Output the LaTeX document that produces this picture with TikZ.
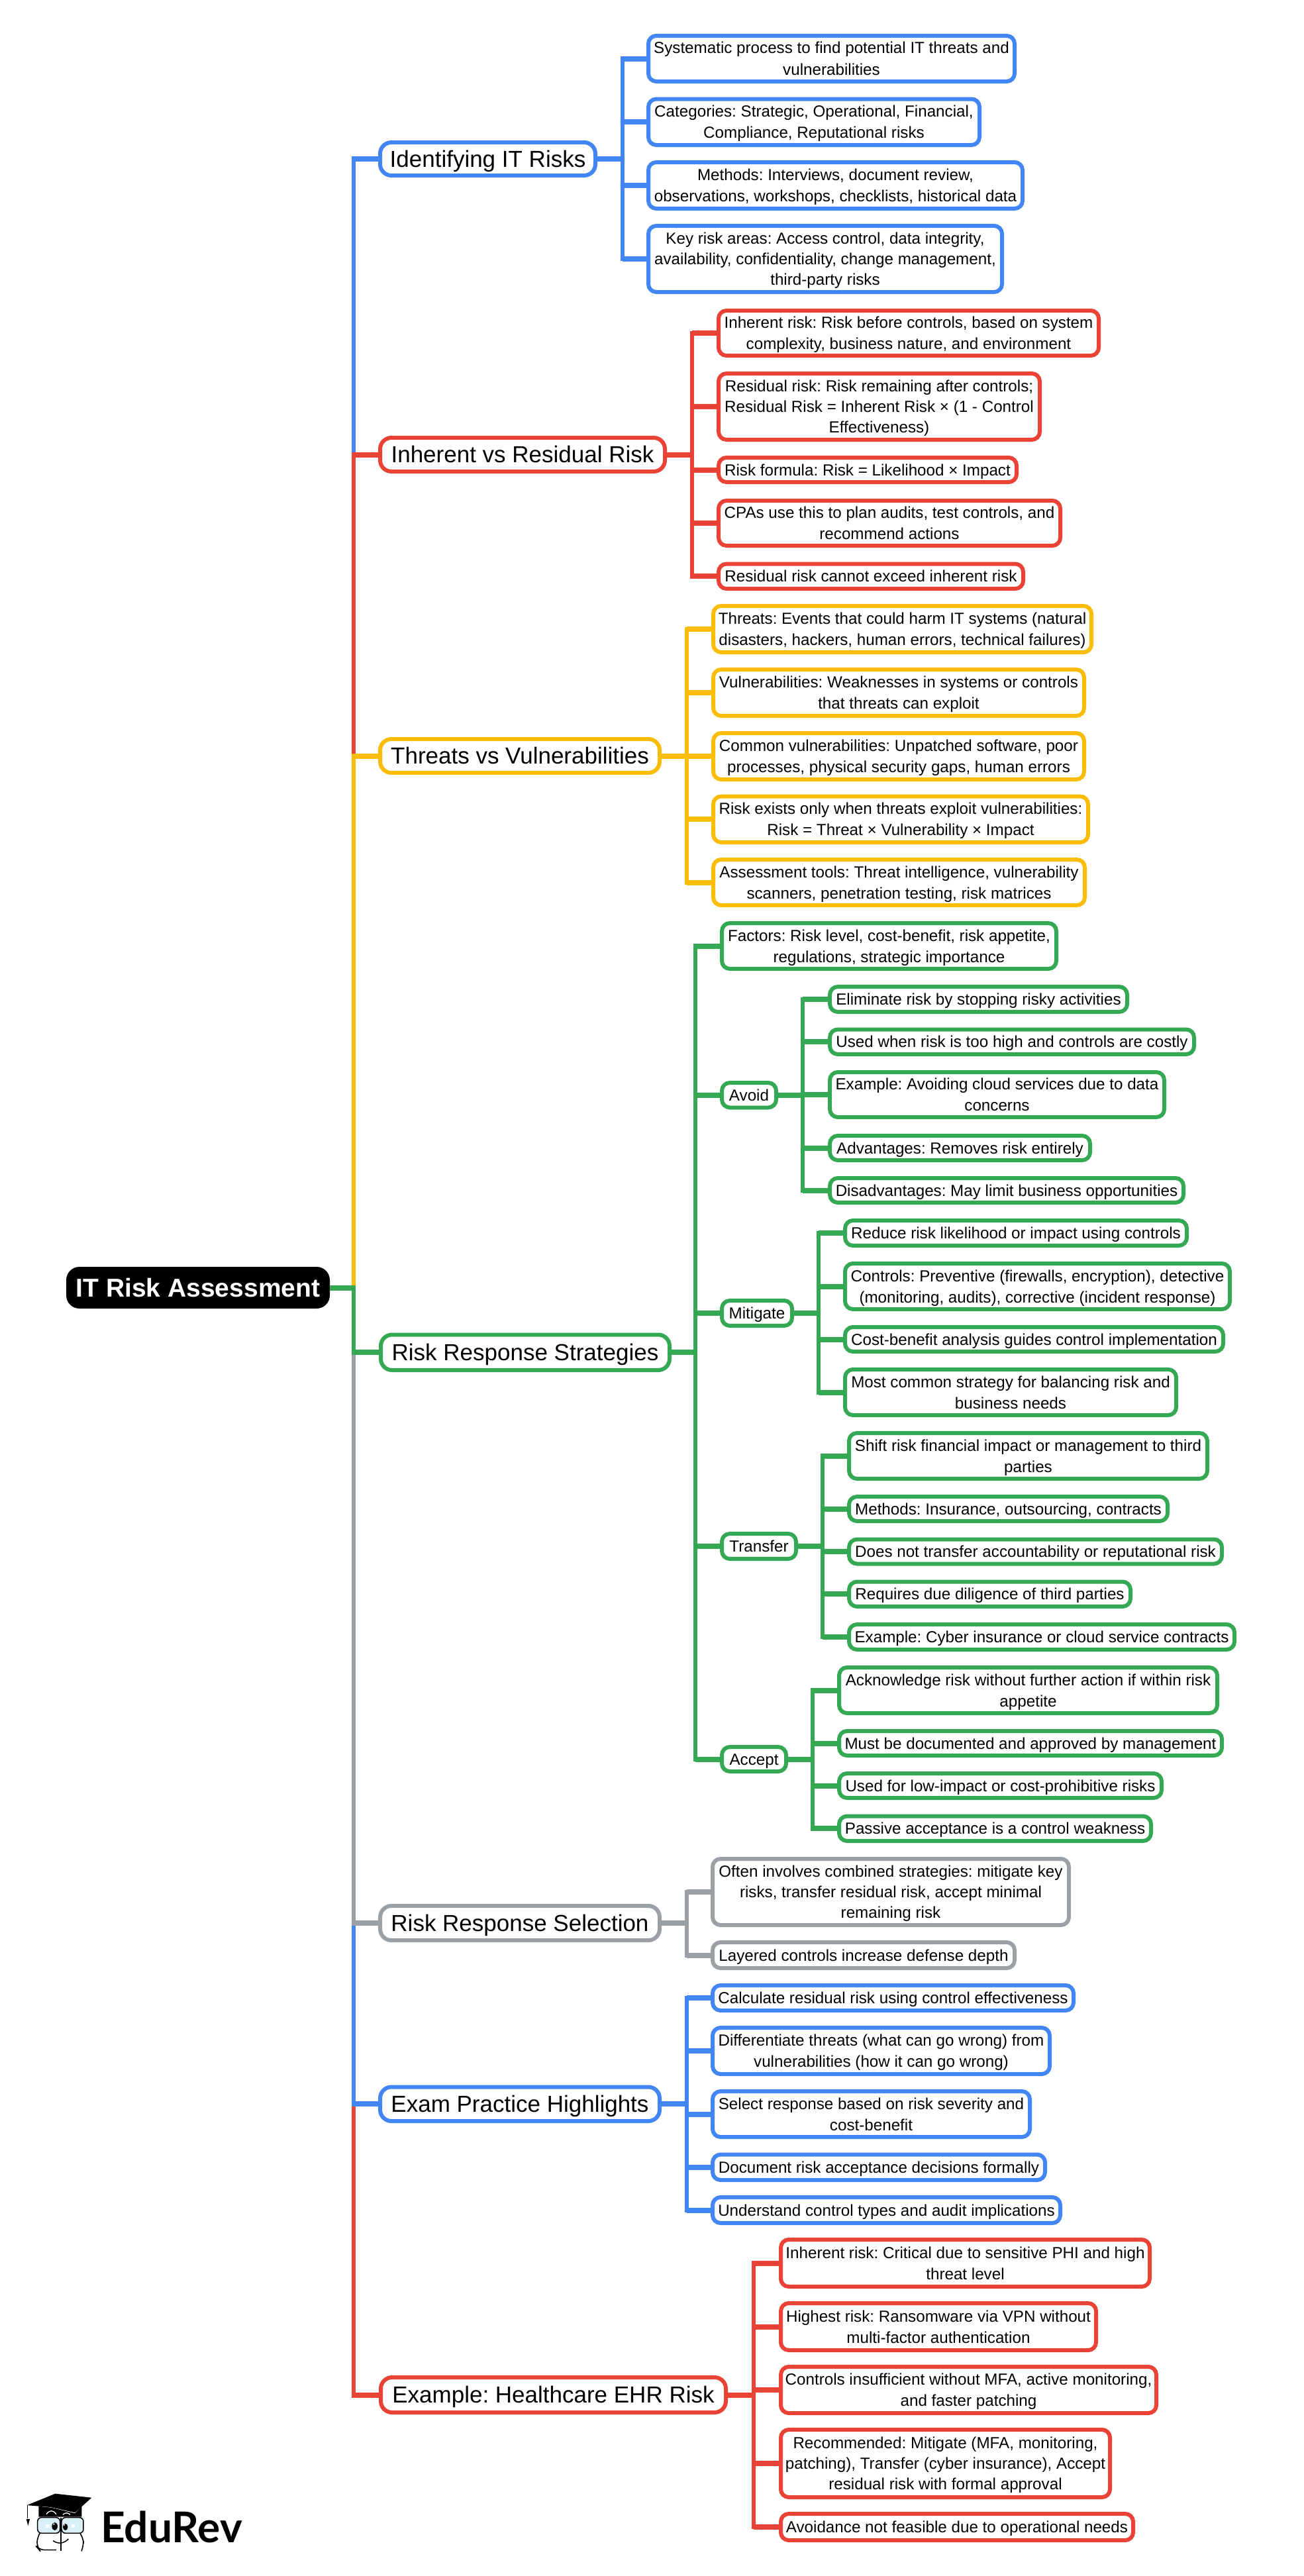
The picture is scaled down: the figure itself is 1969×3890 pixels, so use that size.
\documentclass[tikz,border=0pt]{standalone}
\usepackage{fontspec}
\setmainfont{Liberation Sans}
\newfontfamily\logofont{Lato}
\definecolor{cblue}{HTML}{4285F4}
\definecolor{cred}{HTML}{EA4335}
\definecolor{cyel}{HTML}{FBBC05}
\definecolor{cgrn}{HTML}{34A853}
\definecolor{cgry}{HTML}{9AA0A6}
\frenchspacing
\newcommand{\tst}{\rule[-0.29em]{0pt}{1.29em}}
\newcommand{\bx}[8]{\node[#1, draw=#3, minimum width={#5-#4-6}, minimum height={#7-#6-6}] (#2) at ({(#4+#5)/2},{(#6+#7)/2}) {\tst#8\tst};}
\newcommand{\grp}[4]{% colour, parent, junction x, leaves (first last included)
  \coordinate (j#2) at (#3,0);
  \draw[stubline=#1] (#2.east) -- (#2.east -| j#2);
  \foreach \lfn [count=\ci] in {#4} {
    \draw[stubline=#1] (\lfn.west -| j#2) -- (\lfn.west);
    \ifnum\ci=1 \xdef\firstlf{\lfn}\fi
    \xdef\lastlf{\lfn}
  }
  \draw[trunkline=#1, line cap=rect] (\firstlf.west -| j#2) -- (\lastlf.west -| j#2);
}
\tikzset{
  x=1pt, y=-1pt,
  stubline/.style={draw=#1, line width=8pt},
  trunkline/.style={draw=#1, line width=6.5pt},
  leafbox/.style={rounded corners=12pt, line width=6pt, align=center, inner sep=0pt, outer sep=0pt, fill=white, font=\fontsize{24.2}{31}\selectfont},
  branchbox/.style={rounded corners=17pt, line width=6pt, align=center, inner sep=0pt, outer sep=0pt, fill=white, font=\fontsize{35}{42}\selectfont},
}
\begin{document}
\begin{tikzpicture}
\useasboundingbox (0,0) rectangle (1969,3890);
\fill[white] (0,0) rectangle (1969,3890);

% root
\node[fill=black, text=white, rounded corners=20pt, inner sep=0pt, minimum width=398pt, minimum height=63pt, font=\fontsize{39}{45}\bfseries\selectfont] (root) at (299,1944.5) {IT Risk Assessment};

% branches
\bx{branchbox}{b1}{cblue}{571}{902}{212}{268}{Identifying IT Risks}
\bx{branchbox}{b2}{cred}{571}{1007}{658}{715}{Inherent vs Residual Risk}
\bx{branchbox}{b3}{cyel}{571}{999}{1113}{1170}{Threats vs Vulnerabilities}
\bx{branchbox}{b4}{cgrn}{572}{1014}{2012.5}{2072}{Risk Response Strategies}
\bx{branchbox}{b5}{cgry}{571}{999}{2875}{2933}{Risk Response Selection}
\bx{branchbox}{b6}{cblue}{571}{999}{3148.5}{3206}{Exam Practice Highlights}
\bx{branchbox}{b7}{cred}{572}{1099}{3587}{3646}{Example: Healthcare EHR Risk}

% trunk
\coordinate (tr) at (534,0);
\draw[trunkline=cblue] (b1.west -| tr) -- (b2.west -| tr);
\draw[trunkline=cred] (b2.west -| tr) -- (b3.west -| tr);
\draw[trunkline=cyel] (b3.west -| tr) -- (root.east -| tr);
\draw[trunkline=cgrn] (root.east -| tr) -- (b4.west -| tr);
\draw[trunkline=cgry] (b4.west -| tr) -- (b5.west -| tr);
\draw[trunkline=cblue] (b5.west -| tr) -- (b6.west -| tr);
\draw[trunkline=cred] (b6.west -| tr) -- (b7.west -| tr);
\draw[stubline=cgrn] (root.east) -- ([xshift=3.25pt]root.east -| tr);
\foreach \b/\c in {b1/cblue,b2/cred,b3/cyel,b4/cgrn,b5/cgry,b6/cblue,b7/cred}
  \draw[stubline=\c] ([xshift=-3.25pt]\b.west -| tr) -- (\b.west);

% group 1
\bx{leafbox}{a1}{cblue}{976}{1535}{51}{126}{Systematic process to find potential IT threats and\\vulnerabilities}
\bx{leafbox}{a2}{cblue}{976}{1482}{146.5}{222}{Categories: Strategic, Operational, Financial,\\Compliance, Reputational risks}
\bx{leafbox}{a3}{cblue}{976}{1547}{242}{318}{Methods: Interviews, document review,\\observations, workshops, checklists, historical data}
\bx{leafbox}{a4}{cblue}{976}{1516}{338}{444}{Key risk areas: Access control, data integrity,\\availability, confidentiality, change management,\\third-party risks}
\grp{cblue}{b1}{940}{a1,a2,a3,a4}

% group 2
\bx{leafbox}{c1}{cred}{1082}{1662}{466}{540}{Inherent risk: Risk before controls, based on system\\complexity, business nature, and environment}
\bx{leafbox}{c2}{cred}{1082}{1573}{561}{667}{Residual risk: Risk remaining after controls;\\Residual Risk = Inherent Risk × (1 - Control\\Effectiveness)}
\bx{leafbox}{c3}{cred}{1082}{1538}{688}{731}{Risk formula: Risk = Likelihood × Impact}
\bx{leafbox}{c4}{cred}{1082}{1604}{753}{827}{CPAs use this to plan audits, test controls, and\\recommend actions}
\bx{leafbox}{c5}{cred}{1082}{1548}{848.5}{892}{Residual risk cannot exceed inherent risk}
\grp{cred}{b2}{1045}{c1,c2,c3,c4,c5}

% group 3
\bx{leafbox}{d1}{cyel}{1074}{1651}{912}{988}{Threats: Events that could harm IT systems (natural\\disasters, hackers, human errors, technical failures)}
\bx{leafbox}{d2}{cyel}{1074}{1640}{1008}{1084}{Vulnerabilities: Weaknesses in systems or controls\\that threats can exploit}
\bx{leafbox}{d3}{cyel}{1074}{1640}{1104}{1180}{Common vulnerabilities: Unpatched software, poor\\processes, physical security gaps, human errors}
\bx{leafbox}{d4}{cyel}{1074}{1646}{1199.5}{1275}{Risk exists only when threats exploit vulnerabilities:\\Risk = Threat × Vulnerability × Impact}
\bx{leafbox}{d5}{cyel}{1074}{1641}{1295}{1370}{Assessment tools: Threat intelligence, vulnerability\\scanners, penetration testing, risk matrices}
\grp{cyel}{b3}{1037}{d1,d2,d3,d4,d5}

% group 4
\bx{leafbox}{e0}{cgrn}{1087}{1598}{1391}{1466}{Factors: Risk level, cost-benefit, risk appetite,\\regulations, strategic importance}
\bx{leafbox}{ea}{cgrn}{1087}{1175}{1632}{1675.5}{Avoid}
\bx{leafbox}{em}{cgrn}{1087}{1199}{1961}{2005}{Mitigate}
\bx{leafbox}{et}{cgrn}{1087}{1205}{2313}{2357}{Transfer}
\bx{leafbox}{ec}{cgrn}{1087}{1190}{2635}{2678}{Accept}
\grp{cgrn}{b4}{1050}{e0,ea,em,et,ec}

\bx{leafbox}{f1}{cgrn}{1250}{1705}{1487}{1531}{Eliminate risk by stopping risky activities}
\bx{leafbox}{f2}{cgrn}{1250}{1806}{1551.5}{1595}{Used when risk is too high and controls are costly}
\bx{leafbox}{f3}{cgrn}{1250}{1761}{1616}{1690}{Example: Avoiding cloud services due to data\\concerns}
\bx{leafbox}{f4}{cgrn}{1250}{1649}{1712}{1755}{Advantages: Removes risk entirely}
\bx{leafbox}{f5}{cgrn}{1250}{1790}{1776}{1819}{Disadvantages: May limit business opportunities}
\grp{cgrn}{ea}{1212}{f1,f2,f3,f4,f5}

\bx{leafbox}{g1}{cgrn}{1273}{1795}{1840}{1884}{Reduce risk likelihood or impact using controls}
\bx{leafbox}{g2}{cgrn}{1273}{1860}{1905}{1980}{Controls: Preventive (firewalls, encryption), detective\\(monitoring, audits), corrective (incident response)}
\bx{leafbox}{g3}{cgrn}{1273}{1850}{2001}{2044}{Cost-benefit analysis guides control implementation}
\bx{leafbox}{g4}{cgrn}{1273}{1779}{2065}{2140}{Most common strategy for balancing risk and\\business needs}
\grp{cgrn}{em}{1236}{g1,g2,g3,g4}

\bx{leafbox}{h1}{cgrn}{1279}{1826}{2161}{2236}{Shift risk financial impact or management to third\\parties}
\bx{leafbox}{h2}{cgrn}{1279}{1766}{2257}{2300}{Methods: Insurance, outsourcing, contracts}
\bx{leafbox}{h3}{cgrn}{1279}{1848}{2321.5}{2364.5}{Does not transfer accountability or reputational risk}
\bx{leafbox}{h4}{cgrn}{1279}{1710}{2385.5}{2429}{Requires due diligence of third parties}
\bx{leafbox}{h5}{cgrn}{1279}{1867}{2450}{2494}{Example: Cyber insurance or cloud service contracts}
\grp{cgrn}{et}{1242}{h1,h2,h3,h4,h5}

\bx{leafbox}{i1}{cgrn}{1264}{1841}{2515}{2590}{Acknowledge risk without further action if within risk\\appetite}
\bx{leafbox}{i2}{cgrn}{1264}{1848}{2611}{2654}{Must be documented and approved by management}
\bx{leafbox}{i3}{cgrn}{1264}{1757}{2675}{2718}{Used for low-impact or cost-prohibitive risks}
\bx{leafbox}{i4}{cgrn}{1264}{1741}{2739.5}{2783}{Passive acceptance is a control weakness}
\grp{cgrn}{ec}{1227}{i1,i2,i3,i4}

% group 5
\bx{leafbox}{k1}{cgry}{1073}{1617}{2804}{2910}{Often involves combined strategies: mitigate key\\risks, transfer residual risk, accept minimal\\remaining risk}
\bx{leafbox}{k2}{cgry}{1073}{1535}{2930}{2975}{Layered controls increase defense depth}
\grp{cgry}{b5}{1037}{k1,k2}

% group 6
\bx{leafbox}{m1}{cblue}{1073}{1624}{2995}{3039}{Calculate residual risk using control effectiveness}
\bx{leafbox}{m2}{cblue}{1073}{1588}{3059}{3135}{Differentiate threats (what can go wrong) from\\vulnerabilities (how it can go wrong)}
\bx{leafbox}{m3}{cblue}{1073}{1558}{3155}{3230}{Select response based on risk severity and\\cost-benefit}
\bx{leafbox}{m4}{cblue}{1073}{1581}{3250.5}{3295}{Document risk acceptance decisions formally}
\bx{leafbox}{m5}{cblue}{1073}{1604}{3315}{3360}{Understand control types and audit implications}
\grp{cblue}{b6}{1037}{m1,m2,m3,m4,m5}

% group 7
\bx{leafbox}{n1}{cred}{1176}{1739}{3379}{3456}{Inherent risk: Critical due to sensitive PHI and high\\threat level}
\bx{leafbox}{n2}{cred}{1176}{1658}{3475}{3552}{Highest risk: Ransomware via VPN without\\multi-factor authentication}
\bx{leafbox}{n3}{cred}{1176}{1749}{3571}{3647}{Controls insufficient without MFA, active monitoring,\\and faster patching}
\bx{leafbox}{n4}{cred}{1176}{1679}{3666}{3774}{Recommended: Mitigate (MFA, monitoring,\\patching), Transfer (cyber insurance), Accept\\residual risk with formal approval}
\bx{leafbox}{n5}{cred}{1176}{1714}{3793}{3839}{Avoidance not feasible due to operational needs}
\grp{cred}{b7}{1138}{n1,n2,n3,n4,n5}

% logo
\begin{scope}[shift={(0,3650)}, x=0.3333pt, y=-0.3333pt]
  \fill[black] (125,398) -- (250,347) -- (415,365) -- (340,433) -- (230,408) -- (130,400) -- cycle;
  \fill[black] (175,404) -- (232,410) -- (340,436) -- (370,405) -- (370,452) -- (175,452) -- cycle;
  \draw[white, line width=1.3pt] (210,440) .. controls (225,420) and (240,420) .. (255,440);
  \draw[white, line width=1.3pt] (285,442) .. controls (295,432) and (308,432) .. (318,442);
  \draw[black, line width=1pt] (125,398) -- (125,460);
  \fill[black] (119,462) -- (135,462) -- (127,492) -- cycle;
  \draw[black, fill=black!15!cyan!15, line width=1.5pt, rounded corners=6pt] (170,455) rectangle (272,526);
  \draw[black, fill=black!15!cyan!15, line width=1.5pt, rounded corners=6pt] (279,455) rectangle (378,526);
  \fill[black] (248,495) ellipse [x radius=13, y radius=18];
  \fill[black] (296,498) ellipse [x radius=11, y radius=15];
  \fill[white] (244,485) circle (4);
  \fill[white] (292,489) circle (3);
  \fill[white] (208,487) rectangle (224,501);
  \fill[white] (324,487) rectangle (340,501);
  \draw[black, line width=1.6pt, rounded corners=8pt] (178,530) -- (168,545) -- (168,590) -- (178,602) -- (255,602);
  \draw[black, line width=1.6pt, rounded corners=8pt] (365,530) -- (378,548) -- (378,585) -- (370,605);
  \draw[black, line width=1.8pt] (275,455) -- (275,605);
  \draw[black, line width=1.5pt] (240,560) .. controls (262,575) and (288,575) .. (310,552);
\end{scope}
\node[anchor=base west, inner sep=0pt, font=\logofont\bfseries\fontsize{64}{70}\selectfont] (logo) at (152,3839) {EduRev};
\end{tikzpicture}
\end{document}
